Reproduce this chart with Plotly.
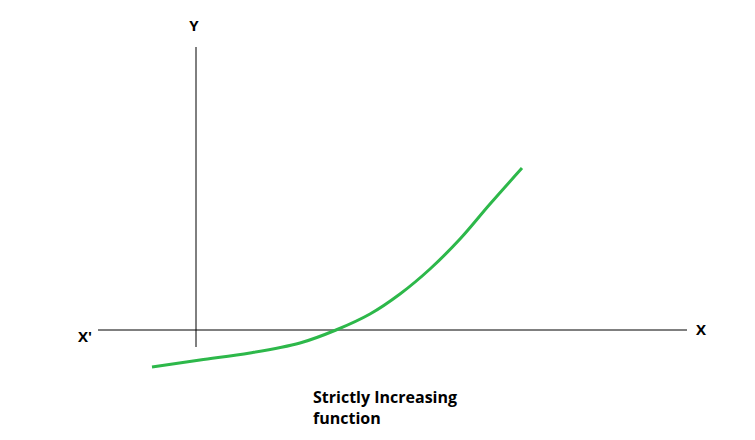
import plotly.graph_objects as go

# curve points (pixel-like coordinates, y grows downward)
curve_x = [152, 200, 250, 300, 336, 370, 400, 430, 460, 490, 522]
curve_y = [367, 360, 353, 343, 330, 314, 294, 269, 239, 204, 168]

# axes lines
xaxis_line_x = [98, 687]
xaxis_line_y = [330, 330]
yaxis_line_x = [196, 196]
yaxis_line_y = [47, 347]

labels = ["<b>Y</b>", "<b>X'</b>", "<b>X</b>"]
label_x = [194, 85, 701]
label_y = [27, 338, 331]

caption = "Strictly Increasing<br>function"

fig = go.Figure()
fig.add_trace(go.Scatter(x=xaxis_line_x, y=xaxis_line_y, mode="lines",
                         line=dict(color="black", width=1), hoverinfo="skip"))
fig.add_trace(go.Scatter(x=yaxis_line_x, y=yaxis_line_y, mode="lines",
                         line=dict(color="black", width=1), hoverinfo="skip"))
fig.add_trace(go.Scatter(x=curve_x, y=curve_y, mode="lines", line_shape="spline",
                         line=dict(color="#2db84a", width=3), hoverinfo="skip"))
fig.add_trace(go.Scatter(x=label_x, y=label_y, mode="text", text=labels,
                         textfont=dict(family="Open Sans", size=15, color="black"),
                         hoverinfo="skip"))
fig.add_annotation(x=311, y=384, text="<b>" + caption.replace("<br>", "</b><br><b>") + "</b>",
                   showarrow=False, xanchor="left", yanchor="top", align="left",
                   font=dict(family="Open Sans", size=16, color="black"))

# ranges offset by 8px to compensate for the page's body margin
fig.update_layout(
    width=755, height=440, showlegend=False,
    margin=dict(l=0, r=0, t=0, b=0),
    paper_bgcolor="white", plot_bgcolor="white",
    xaxis=dict(range=[8, 763], visible=False, fixedrange=True),
    yaxis=dict(range=[448, 8], visible=False, fixedrange=True),
)
fig.write_html("out.html")
